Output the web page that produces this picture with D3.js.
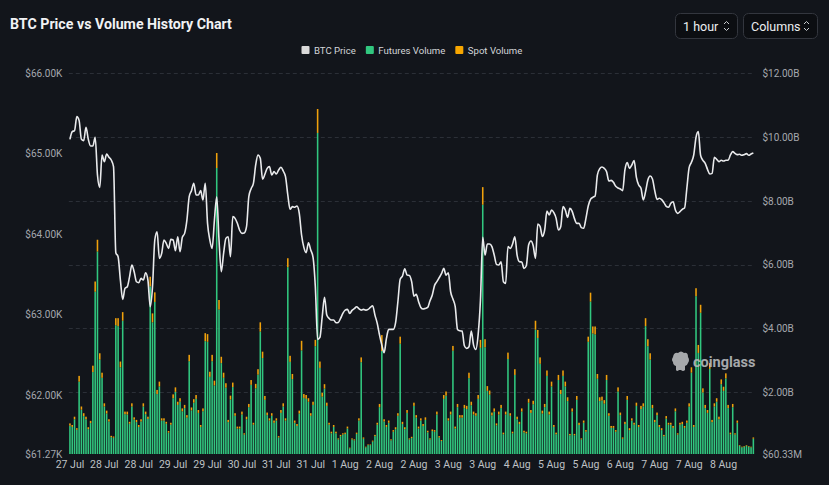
<!DOCTYPE html>
<html><head><meta charset="utf-8">
<script src="https://cdn.jsdelivr.net/npm/d3@7"></script>
<style>
html,body{margin:0;padding:0;background:#12151b;}
svg{display:block;font-family:Roboto,"Noto Sans",sans-serif;}
</style></head><body>
<svg id="chart" width="829" height="485"></svg>
<script>
// BTC price (thousand USD), hourly
const priceK = [
65.180,65.275,65.288,65.462,65.412,65.180,65.163,65.329,65.180,65.097,
65.097,65.205,64.737,64.583,64.985,64.902,64.998,64.956,64.923,64.840,
63.771,63.721,63.431,63.191,63.328,63.348,63.473,63.618,63.535,63.410,
63.398,63.452,63.431,63.522,63.431,63.100,63.348,63.929,64.032,63.701,
63.763,63.929,63.887,63.825,63.937,63.929,63.796,63.970,63.783,63.962,
64.011,64.177,64.467,64.542,64.633,64.488,64.488,64.542,64.426,64.633,
64.136,63.929,63.825,64.177,64.467,63.929,63.535,63.763,63.949,63.970,
63.721,64.219,64.198,64.136,64.050,64.011,64.016,64.094,64.467,64.567,
64.633,64.861,64.985,64.944,64.683,64.745,64.819,64.840,64.737,64.778,
64.749,64.799,64.832,64.786,64.716,64.488,64.310,64.343,64.335,64.351,
64.260,63.991,63.837,63.771,63.895,63.804,63.713,63.348,62.694,62.718,
62.975,63.216,62.996,62.955,62.934,62.934,62.901,62.905,62.955,63.017,
63.058,63.067,63.017,63.054,63.075,63.100,63.075,63.058,63.067,63.058,
63.067,63.091,63.112,62.996,62.893,62.747,62.623,62.528,62.706,62.818,
62.818,62.818,62.901,63.162,63.440,63.481,63.572,63.493,63.489,63.411,
63.232,63.253,63.166,63.091,63.071,63.079,63.091,63.174,63.245,63.365,
63.411,63.460,63.510,63.576,63.493,63.522,63.286,63.195,63.100,62.818,
62.801,62.797,62.615,62.582,62.602,62.797,62.623,62.569,62.756,63.183,
63.962,63.742,63.879,63.879,63.846,63.742,63.626,63.618,63.659,63.411,
63.390,63.846,63.825,63.879,63.970,63.738,63.659,63.655,63.576,63.609,
63.866,63.916,63.858,63.701,64.127,64.098,63.974,64.053,64.289,64.239,
64.301,64.268,64.198,64.053,64.094,64.343,64.301,64.210,64.322,64.285,
64.194,64.136,64.136,64.082,64.074,64.198,64.351,64.434,64.459,64.476,
64.737,64.815,64.836,64.819,64.778,64.662,64.670,64.645,64.596,64.575,
64.563,64.542,64.799,64.890,64.819,64.861,64.915,64.708,64.612,64.571,
64.426,64.529,64.674,64.724,64.687,64.542,64.434,64.447,64.430,64.393,
64.347,64.335,64.384,64.405,64.301,64.260,64.281,64.310,64.326,64.571,
64.828,64.894,64.985,65.205,65.275,64.981,64.919,64.882,64.807,64.749,
64.757,64.956,64.931,64.902,64.919,64.910,64.919,64.919,64.985,65.027,
65.006,64.989,64.994,64.981,64.989,65.002,64.981,64.998,65.010
];
// total (futures + spot) volume, billions USD
const totalVolB = [
1.02,0.97,1.23,0.87,2.51,1.55,1.34,1.23,0.90,1.10,
2.83,5.47,6.78,3.22,2.61,1.65,1.42,1.15,0.63,0.61,
4.32,4.32,2.96,4.51,1.39,1.39,1.07,1.65,1.21,1.13,
0.97,1.15,1.65,1.39,1.23,5.62,4.47,5.13,2.07,2.33,
1.18,1.18,1.07,0.78,1.04,1.93,2.15,1.70,1.81,1.49,
1.60,1.28,3.17,1.52,1.78,1.91,1.44,0.97,1.49,3.85,
3.82,2.64,3.17,2.36,9.50,4.89,3.11,2.61,2.28,1.13,
1.89,2.30,1.34,0.92,0.92,1.39,0.71,1.23,1.63,2.38,
1.04,2.26,2.72,4.19,3.27,1.88,1.36,1.18,1.34,1.11,
1.18,0.62,1.44,1.65,1.18,6.20,3.14,2.57,1.11,1.00,
1.42,3.61,1.94,1.91,1.81,1.34,1.70,3.64,10.88,2.96,
1.98,2.25,1.67,1.04,0.76,0.97,0.76,0.55,0.66,0.71,
0.73,0.92,0.26,0.55,0.52,0.73,1.18,3.09,0.58,0.29,
0.36,0.36,0.48,0.66,1.04,1.63,3.79,1.15,0.97,1.11,
0.52,0.81,0.90,1.34,3.74,1.07,0.90,1.44,0.55,0.60,
1.67,1.28,0.92,1.18,1.00,1.21,0.79,0.55,0.83,0.81,
1.39,0.62,0.50,1.91,2.02,1.18,1.39,3.45,0.92,1.63,
1.28,1.28,1.60,1.57,2.61,1.70,1.39,1.34,1.91,3.64,
8.43,3.66,2.19,2.05,1.36,1.49,1.02,1.39,1.60,0.73,
1.39,3.24,1.34,0.76,2.72,1.23,1.07,1.49,0.79,0.76,
1.79,1.44,1.73,4.24,3.95,3.09,1.42,1.63,2.68,1.39,
2.33,0.97,0.73,2.54,2.07,2.68,2.33,1.84,0.69,1.49,
0.69,1.88,1.04,0.55,1.11,0.81,3.74,5.12,4.06,4.06,
2.57,1.84,1.86,1.75,2.54,1.34,0.94,0.94,0.81,2.15,
1.36,0.58,1.07,1.88,0.87,1.18,1.04,1.67,0.97,1.57,
1.65,4.32,3.66,3.22,1.60,1.13,1.36,0.97,0.87,0.66,
1.25,1.04,1.04,0.94,1.49,0.71,1.04,1.07,0.94,1.11,
1.65,2.78,0.97,5.26,3.48,4.74,2.12,1.60,1.44,2.91,
1.13,1.65,1.81,1.23,2.40,2.17,2.59,1.60,0.73,1.63,
0.71,1.11,0.34,0.29,0.31,0.34,0.31,0.29,0.58
];
// spot volume, billions USD
const spotVolB = [
.07,.06,.08,.05,.18,.10,.09,.08,.06,.07,
.20,.32,.37,.20,.16,.10,.09,.07,.04,.04,
.22,.25,.18,.27,.08,.09,.06,.10,.07,.07,
.06,.07,.10,.08,.07,.30,.28,.30,.13,.15,
.07,.07,.06,.05,.06,.12,.14,.10,.11,.09,
.10,.08,.20,.09,.11,.12,.09,.06,.09,.25,
.24,.16,.20,.15,.47,.30,.20,.16,.14,.07,
.12,.14,.08,.06,.06,.09,.04,.08,.10,.15,
.06,.14,.17,.29,.20,.12,.08,.07,.08,.07,
.07,.04,.09,.10,.07,.28,.19,.16,.07,.06,
.09,.30,.12,.12,.11,.08,.10,.20,.75,.20,
.12,.14,.10,.06,.05,.06,.05,.03,.04,.04,
.04,.06,.02,.03,.03,.04,.07,.15,.04,.02,
.02,.02,.03,.04,.06,.10,.50,.07,.06,.07,
.03,.05,.06,.08,.22,.07,.06,.09,.03,.04,
.10,.08,.06,.07,.06,.08,.05,.03,.05,.05,
.09,.04,.03,.12,.13,.07,.09,.15,.06,.10,
.08,.08,.10,.10,.17,.11,.09,.08,.12,.25,
.55,.25,.15,.13,.09,.10,.06,.09,.10,.05,
.09,.20,.08,.05,.18,.08,.07,.10,.05,.05,
.12,.09,.11,.28,.25,.20,.09,.10,.17,.09,
.15,.06,.05,.16,.13,.17,.15,.12,.04,.10,
.04,.12,.07,.03,.07,.05,.16,.28,.22,.25,
.15,.12,.12,.11,.16,.08,.06,.06,.05,.13,
.08,.04,.07,.12,.06,.07,.06,.10,.06,.10,
.10,.25,.22,.20,.10,.07,.08,.06,.06,.04,
.08,.06,.06,.06,.09,.04,.06,.07,.06,.07,
.10,.17,.06,.25,.25,.25,.13,.10,.09,.18,
.07,.10,.11,.08,.15,.13,.16,.10,.05,.10,
.04,.07,.02,.02,.02,.02,.02,.02,.04
];
const xTickLabels = ["27 Jul","28 Jul","28 Jul","29 Jul","29 Jul","30 Jul","31 Jul","31 Jul","1 Aug","2 Aug","2 Aug","3 Aug","3 Aug","4 Aug","5 Aug","5 Aug","6 Aug","7 Aug","7 Aug","8 Aug"];
const xTickEvery = 15;
const priceTicks = [66, 65, 64, 63, 62, 61.27];
const volTicks = [12, 10, 8, 6, 4, 2, 0.06033];
const legendItems = [
  {name: "BTC Price", color: "#d9d9d9"},
  {name: "Futures Volume", color: "#31c77f"},
  {name: "Spot Volume", color: "#f7a600"}
];

const N = totalVolB.length;
const data = d3.range(N).map(i => ({
  i, price: priceK[i], total: totalVolB[i], spot: spotVolB[i], fut: totalVolB[i] - spotVolB[i]
}));

const W = 829, H = 485;
const M = {left: 68.8, right: 754.5, top: 73.3, bottom: 454};
const svg = d3.select("#chart");
svg.append("rect").attr("width", W).attr("height", H).attr("fill", "#12151b");

const x = d3.scaleBand().domain(d3.range(N)).range([M.left, M.right]).paddingInner(0.32).paddingOuter(0.16);
const yP = d3.scaleLinear().domain([61.27, 66]).range([M.bottom, M.top]);
const yV = d3.scaleLinear().domain([0.06033, 12]).range([M.bottom, M.top]);

// title
svg.append("text").attr("x", 10).attr("y", 28.5).attr("fill", "#f1f2f4")
  .attr("font-size", 14.2).attr("font-weight", 700).attr("font-family", "Roboto, sans-serif")
  .text("BTC Price vs Volume History Chart");

// selector buttons
const buttons = [{label: "1 hour", x: 675, w: 62}, {label: "Columns", x: 743, w: 74}];
buttons.forEach(b => {
  const g = svg.append("g");
  g.append("rect").attr("x", b.x + 0.5).attr("y", 13.5).attr("width", b.w).attr("height", 25).attr("rx", 5)
    .attr("fill", "#0c0e12").attr("stroke", "#33363e");
  g.append("text").attr("x", b.x + 8).attr("y", 30.5).attr("fill", "#eceef1").attr("font-size", 12.5).text(b.label);
  const cx = b.x + b.w - 10.5;
  g.append("path").attr("d", `M${cx-2.5},${24} L${cx},${21.5} L${cx+2.5},${24} M${cx-2.5},${28} L${cx},${30.5} L${cx+2.5},${28}`)
    .attr("fill", "none").attr("stroke", "#c9ccd1").attr("stroke-width", 1);
});

// legend
const lg = svg.append("g").attr("font-size", 9.6).attr("fill", "#d3d5d9");
let lx = 301.5;
legendItems.forEach(it => {
  lg.append("rect").attr("x", lx).attr("y", 46).attr("width", 8).attr("height", 8).attr("rx", 1).attr("fill", it.color);
  const t = lg.append("text").attr("x", lx + 12.5).attr("y", 53.5).text(it.name);
  const w = t.node().getComputedTextLength();
  lx += 12.5 + w + 10;
});

// gridlines (right axis ticks)
svg.append("g").selectAll("line").data(volTicks.filter(v => v >= 1)).join("line")
  .attr("x1", M.left).attr("x2", M.right)
  .attr("y1", d => Math.round(yV(d)) + 0.5).attr("y2", d => Math.round(yV(d)) + 0.5)
  .attr("stroke", "#2b2f37").attr("stroke-dasharray", "4,3").attr("stroke-width", 1);

// bars: futures (bottom) + spot (top)
const bars = svg.append("g");
bars.selectAll("rect.fut").data(data).join("rect").attr("class", "fut")
  .attr("x", d => x(d.i)).attr("width", x.bandwidth())
  .attr("y", d => yV(d.fut)).attr("height", d => yV(0.06033) - yV(d.fut))
  .attr("fill", "#31c77f");
bars.selectAll("rect.spot").data(data).join("rect").attr("class", "spot")
  .attr("x", d => x(d.i)).attr("width", x.bandwidth())
  .attr("y", d => yV(d.total)).attr("height", d => yV(d.fut) - yV(d.total))
  .attr("fill", "#f0a10c");

// watermark
const wm = svg.append("g").attr("fill", "#b3b5b8").attr("opacity", 0.92);
wm.append("path").attr("d", "M673,357 q1,-5 5,-4 q3,-3 6,0 q4,-1 4,4 q2,3 0,6 q-1,3 -3,3 l0,4 q-2,2 -4,0 l-2,0 q-2,2 -3,0 l0,-4 q-3,-1 -3,-4 q-2,-2 0,-5 z");
wm.append("text").attr("x", 693).attr("y", 366.5).attr("font-size", 14.5).attr("font-weight", 700)
  .attr("font-family", "Roboto, sans-serif").text("coinglass");

// price line
const line = d3.line().x(d => x(d.i) + x.bandwidth() / 2).y(d => yP(d.price)).curve(d3.curveMonotoneX);
svg.append("path").datum(data).attr("d", line).attr("fill", "none")
  .attr("stroke", "#e9eaec").attr("stroke-width", 1.6).attr("stroke-linejoin", "round");

// axes
const axisStyle = (g, color, size) => {
  g.select(".domain").remove();
  g.selectAll(".tick line").remove();
  g.selectAll("text").attr("fill", color).attr("font-size", size).attr("font-family", "Roboto, sans-serif");
};
svg.append("g").attr("transform", `translate(${M.left},0)`)
  .call(d3.axisLeft(yP).tickValues(priceTicks).tickSize(0).tickPadding(6.5).tickFormat(d => "$" + d.toFixed(2) + "K"))
  .call(g => axisStyle(g, "#a5a8ae", 10));
svg.append("g").attr("transform", `translate(${M.right},0)`)
  .call(d3.axisRight(yV).tickValues(volTicks).tickSize(0).tickPadding(8)
    .tickFormat(d => d >= 1 ? "$" + d.toFixed(2) + "B" : "$" + (d * 1000).toFixed(2) + "M"))
  .call(g => axisStyle(g, "#a5a8ae", 10));
const xTickIdx = xTickLabels.map((_, k) => k * xTickEvery);
svg.append("g").attr("transform", `translate(0,${M.bottom})`)
  .call(d3.axisBottom(x).tickValues(xTickIdx).tickSize(0).tickPadding(7).tickFormat((d, k) => xTickLabels[k]))
  .call(g => axisStyle(g, "#bfc1c5", 10.5));
</script>
</body></html>
